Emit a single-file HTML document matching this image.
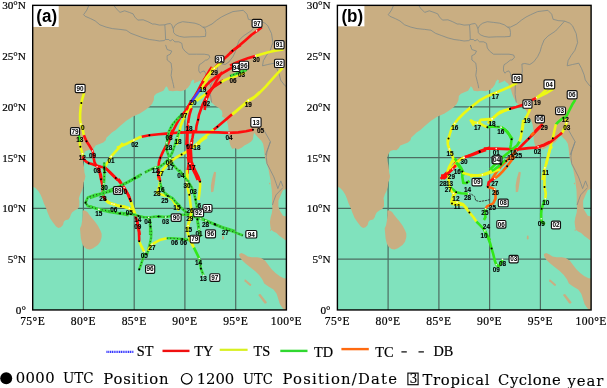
<!DOCTYPE html>
<html><head><meta charset="utf-8"><title>Tropical cyclone tracks</title>
<style>html,body{margin:0;padding:0;background:#fff;}body{width:607px;height:388px;overflow:hidden;}svg{display:block;}</style>
</head><body>
<svg width="607" height="388" viewBox="0 0 607 388">
<defs>
<clipPath id="ca"><rect x="32.7" y="5.35" width="253.7" height="304.6"/></clipPath>
<g id="map"><rect x="32.7" y="5.35" width="253.7" height="304.6" fill="#80e2bd"/>
<line x1="83.4" y1="5.35" x2="83.4" y2="310.0" class="g"/>
<line x1="134.2" y1="5.35" x2="134.2" y2="310.0" class="g"/>
<line x1="184.9" y1="5.35" x2="184.9" y2="310.0" class="g"/>
<line x1="235.7" y1="5.35" x2="235.7" y2="310.0" class="g"/>
<line x1="32.7" y1="259.2" x2="286.4" y2="259.2" class="g"/>
<line x1="32.7" y1="208.4" x2="286.4" y2="208.4" class="g"/>
<line x1="32.7" y1="157.7" x2="286.4" y2="157.7" class="g"/>
<line x1="32.7" y1="106.9" x2="286.4" y2="106.9" class="g"/>
<line x1="32.7" y1="56.1" x2="286.4" y2="56.1" class="g"/>
<polygon points="31.1,3.0 288.1,3.0 288.1,188.0 283.0,190.2 280.8,194.9 278.4,200.7 278.4,206.5 279.5,210.0 283.0,215.8 288.1,217.0 288.1,240.8 285.0,239.9 282.8,238.3 279.6,236.0 276.5,232.9 273.4,231.4 271.1,229.8 270.4,226.8 269.9,222.1 270.6,217.5 271.9,212.8 272.4,208.2 271.9,203.6 272.1,198.9 272.0,195.0 271.8,190.3 271.1,185.3 270.6,180.3 269.6,175.2 268.4,170.2 267.1,165.2 269.6,175.0 268.4,168.8 266.4,163.7 265.1,158.5 264.4,153.4 263.9,148.2 263.1,143.7 261.2,140.5 258.6,137.9 256.0,135.3 254.1,132.7 253.5,135.3 252.9,139.2 250.9,141.8 247.8,143.7 244.4,145.6 241.9,147.6 238.0,149.5 235.4,148.2 232.2,148.8 230.4,145.6 229.4,141.8 228.8,137.1 228.8,130.9 227.9,124.7 226.4,120.1 224.0,117.8 221.8,116.2 222.5,113.9 221.8,110.8 218.6,107.7 214.8,105.4 211.6,102.5 208.9,97.5 207.4,93.7 206.5,90.6 204.9,86.7 203.4,83.6 201.1,82.1 200.1,80.6 198.5,81.6 195.4,82.7 193.8,83.5 194.3,80.4 192.9,79.4 191.2,81.4 190.2,84.5 188.1,87.6 185.0,90.1 180.9,91.3 176.8,90.7 172.6,91.3 168.9,90.7 167.5,87.6 166.1,86.3 165.4,87.6 163.4,90.7 160.3,92.1 156.2,93.8 154.1,95.9 153.8,100.0 152.0,104.1 148.9,107.2 144.8,110.3 139.8,113.4 132.5,116.7 126.3,120.8 120.1,126.0 115.8,130.1 111.9,132.4 108.8,135.5 106.4,137.8 105.8,140.2 103.3,142.5 99.5,144.0 95.6,145.6 94.1,147.9 91.8,150.2 88.8,149.9 85.6,151.0 83.8,154.1 82.5,157.2 82.8,161.0 83.8,165.7 84.3,170.0 84.4,172.3 85.4,176.2 84.8,179.3 83.6,182.4 83.1,187.0 81.6,191.6 80.0,194.7 78.8,198.6 79.3,200.9 79.3,206.3 77.8,208.7 74.6,210.5 72.0,212.5 70.8,214.8 70.0,217.2 68.4,219.5 65.3,220.3 63.8,221.8 63.0,224.9 60.8,227.2 58.4,228.0 56.1,226.4 53.0,222.6 49.9,217.9 47.6,212.5 46.0,207.9 43.8,203.2 42.2,198.6 40.6,194.7 38.3,190.9 35.2,187.8 31.1,186.0" class="l"/>
<polygon points="83.1,210.2 85.4,210.8 87.4,212.1 89.3,214.7 91.9,217.9 94.5,221.1 97.8,225.6 100.3,230.2 101.6,233.4 101.6,237.3 100.3,241.8 97.8,245.0 93.2,248.2 89.9,249.5 86.8,248.9 84.1,246.9 82.2,243.7 80.9,238.5 80.3,232.1 80.0,228.2 81.3,225.6 82.2,220.5 82.8,215.3 82.6,211.5" class="l"/>
<polygon points="239.1,253.9 241.6,253.1 244.8,254.6 247.8,256.6 251.9,257.2 257.0,257.2 261.1,258.1 265.2,260.7 268.4,264.9 271.4,269.0 275.5,273.1 279.8,276.2 283.9,278.2 288.1,278.6 288.1,312.0 284.9,311.0 281.8,307.1 279.8,304.0 278.2,298.8 276.6,293.7 273.5,289.6 268.4,286.5 264.2,283.4 262.2,279.3 259.1,275.1 255.0,271.0 249.9,266.9 245.8,263.8 241.6,259.7 239.5,256.6" class="l"/>
<polygon points="244.4,279.8 245.6,279.6 251.4,284.6 250.8,286.0 249.6,285.8 244.6,281.3" class="l"/>
<polygon points="258.8,294.2 260.4,293.9 266.9,302.3 266.1,303.6 264.5,303.4 258.6,295.6" class="l"/>
<polygon points="214.1,171.8 216.1,172.2 215.4,178.5 214.4,185.5 213.4,191.8 211.1,192.3 210.9,185.5 212.1,178.5" class="l"/>
<polygon points="222.4,235.6 223.8,235.8 224.0,238.8 222.9,239.8 222.0,238.6" class="l"/>
<polygon points="269.5,182.6 270.4,183.2 270.0,184.4 269.0,184.0" class="l"/>
<polygon points="270.2,229.3 271.1,229.8 270.8,231.0 269.8,230.4" class="l"/>
<polyline points="89.8,3.0 86.8,10.1 83.6,14.7 85.2,16.3 90.6,18.6 95.2,20.9 99.9,24.8 106.1,27.1 112.3,28.6 120.0,29.4 126.2,30.2 130.8,33.3 137.0,35.6 143.2,37.9 149.4,39.5 154.8,40.2 159.4,41.0 164.0,40.6 165.6,39.5" class="b"/>
<polyline points="112.3,3.0 116.1,8.5 120.0,12.4 124.6,10.8 129.3,12.4 133.1,13.9 134.8,17.0 137.8,20.1 143.2,19.8 147.9,21.7 152.5,24.0 154.8,24.0 159.4,25.1 164.8,24.8 165.3,32.0 165.6,39.5" class="b"/>
<polyline points="164.8,24.8 167.1,24.0 170.2,23.5 171.8,24.8 173.0,28.6" class="b"/>
<polyline points="173.3,28.6 174.9,25.5 178.0,23.2 182.6,21.7 188.8,22.4 195.0,23.2 199.6,24.8 202.8,27.1 205.1,28.6 205.8,32.5 205.5,36.4 199.6,36.8 191.9,36.8 184.1,37.2 179.5,36.4 175.6,34.8 173.6,32.5 173.3,28.6" class="b"/>
<polyline points="202.8,27.1 205.8,27.1 212.0,24.0 216.8,20.1 221.4,17.0 226.0,14.7 232.9,11.6 243.2,10.3 247.0,14.2 248.4,19.3 253.5,20.6 259.9,21.1 265.1,23.2 267.8,25.8 271.5,33.5 272.9,42.6 270.2,50.3 266.4,55.5 263.4,60.6 262.5,65.8 267.8,64.5 274.1,63.2 276.8,68.4 279.4,74.8 280.6,80.0 284.4,85.1 288.1,88.0" class="b"/>
<polyline points="259.9,21.1 250.9,31.0 243.2,36.1 239.4,40.0 236.8,46.4 235.4,51.6 232.9,56.7 229.0,61.9 225.1,64.5 220.1,63.5 217.2,64.0 217.6,70.9 216.9,77.1 214.9,80.2 212.1,82.0 210.6,86.0 210.4,94.4 211.6,102.5" class="b"/>
<polyline points="165.6,39.5 168.8,39.5 170.2,41.0 172.5,39.5 174.9,41.8 178.8,41.8 181.8,43.3 182.6,48.0 184.9,51.1 188.8,54.2 196.5,54.2 204.3,54.2 208.9,55.0 209.8,57.3 207.4,60.0 205.6,60.1 201.8,63.2 199.4,64.7 198.8,67.1 198.8,70.9 200.2,73.2 201.8,71.7 204.1,70.9 205.6,73.2 206.4,77.1 208.8,82.0 210.6,86.0" class="b"/>
<polyline points="165.6,44.9 167.1,49.5 171.8,51.1 170.2,54.2 167.1,55.7 167.2,60.0 171.1,63.1 171.9,69.3 171.1,75.5 172.6,81.6 173.4,84.7 174.0,88.2" class="b"/>
<polyline points="265.4,155.0 270.4,141.7" class="b"/>
<polyline points="263.8,130.0 270.4,141.7 267.0,151.8 266.2,156.8 267.0,163.5 270.4,170.2 273.8,176.9 276.2,183.6 277.9,188.6 280.8,180.9 283.0,186.7" class="b"/>
<polyline points="283.0,187.5 276.0,194.9 273.8,200.7 272.4,205.0" class="b"/></g>
</defs>
<style>
.g{stroke:#4d6d62;stroke-width:1.2;}
.l{fill:#c9ae82;stroke:none;}
.b{fill:none;stroke:#7f8a8a;stroke-width:0.8;stroke-linejoin:round;}
.t{font-family:"Liberation Serif",serif;font-size:11.6px;letter-spacing:0.45px;fill:#000;stroke:#000;stroke-width:0.2px;}
.tn{font-size:11.2px;letter-spacing:0;}
.lg{font-family:"Liberation Serif",serif;font-size:14.3px;fill:#000;stroke:#000;stroke-width:0.2px;}
.bt{font-family:"DejaVu Serif",serif;font-size:14.8px;fill:#000;stroke:#000;stroke-width:0.1px;}
.pl{font-family:"Liberation Sans",sans-serif;font-weight:bold;font-size:17px;fill:#000;}
.bx{font-family:"Liberation Sans",sans-serif;font-weight:bold;font-size:6.4px;fill:#000;}
.dn{font-family:"Liberation Sans",sans-serif;font-weight:bold;font-size:6.4px;fill:#000;stroke:#000;stroke-width:0.12px;}
.tk{fill:none;stroke-width:2.6;stroke-linecap:butt;stroke-linejoin:round;}
</style>
<rect width="607" height="388" fill="#fff"/>
<g clip-path="url(#ca)">
<use href="#map"/>
<polyline points="84.0,93.1 82.4,98.6 81.3,102.9 80.6,107.8 80.1,114.0 80.1,120.2 80.9,124.1 82.4,127.9 83.2,131.0" class="tk" stroke="#ecf814"/>
<polyline points="82.5,127.4 82.9,130.0 83.5,133.9 83.9,135.2" class="tk" stroke="#ecf814"/>
<polyline points="83.9,135.2 85.5,139.0 86.5,141.3 89.3,145.5 91.6,149.3 92.6,151.0 93.5,154.5 93.8,158.4 94.5,162.2 95.8,164.8 97.1,166.7 99.6,171.2 100.9,175.1 101.6,180.0" class="tk" stroke="#ff0d0d"/>
<polyline points="79.0,135.2 79.3,137.7 79.7,141.6" class="tk" stroke="#33e81a"/>
<polyline points="79.7,141.6 80.3,146.8 81.6,150.6 82.5,153.8 82.9,156.4" class="tk" stroke="#ecf814"/>
<polyline points="82.9,156.4 83.5,159.0 86.1,161.6 88.7,163.2 91.9,164.1 95.8,165.4 100.9,166.7 104.1,167.4 107.4,169.9 111.2,173.8 115.1,177.7 117.7,180.0" class="tk" stroke="#ff0d0d"/>
<polyline points="122.8,142.9 120.0,146.8 115.7,151.3 111.2,156.4 108.7,160.9 106.1,164.8 104.1,167.4" class="tk" stroke="#ecf814"/>
<polyline points="99.0,167.6 99.7,172.7 101.0,179.2 102.2,184.3 102.9,188.2 102.9,192.7 103.5,196.6 105.5,199.8" class="tk" stroke="#ff0d0d"/>
<polyline points="105.5,199.8 108.0,202.4 111.9,203.7 117.1,205.2 120.9,206.2 124.8,206.9 128.7,208.2 131.2,210.1 133.8,212.7 135.1,215.0" class="tk" stroke="#ecf814"/>
<polyline points="104.2,166.9 109.3,171.4 112.6,174.7 115.8,177.9 119.0,181.1 121.6,184.3 124.1,187.6 126.1,190.8 128.0,194.6 129.9,199.1" class="tk" stroke="#ff0d0d"/>
<polyline points="129.9,199.1 131.2,203.0 132.5,207.5 133.8,211.4 135.1,215.0" class="tk" stroke="#ecf814"/>
<polyline points="104.2,162.4 104.2,167.6 104.4,172.7 104.2,179.2 103.9,183.7 103.5,190.8 102.9,195.9" class="tk" stroke="#3ade3a" stroke-width="1.25"/>
<polyline points="104.2,162.4 104.2,167.6 104.4,172.7 104.2,179.2 103.9,183.7 103.5,190.8 102.9,195.9" fill="none" stroke="#1d3d1d" stroke-width="1.05" stroke-dasharray="1,2.4"/>
<polyline points="90.0,197.9 97.7,195.3 105.5,192.1 113.2,188.8 120.9,185.6 128.7,181.8 134.5,178.5 140.0,176.0" class="tk" stroke="#3ade3a" stroke-width="1.25"/>
<polyline points="90.0,197.9 97.7,195.3 105.5,192.1 113.2,188.8 120.9,185.6 128.7,181.8 134.5,178.5 140.0,176.0" fill="none" stroke="#1d3d1d" stroke-width="1.05" stroke-dasharray="1,2.4"/>
<polyline points="90.0,206.2 99.0,209.5 109.3,212.0 122.2,214.0 128.7,215.3" class="tk" stroke="#3ade3a" stroke-width="1.25"/>
<polyline points="90.0,206.2 99.0,209.5 109.3,212.0 122.2,214.0 128.7,215.3" fill="none" stroke="#1d3d1d" stroke-width="1.05" stroke-dasharray="1,2.4"/>
<polyline points="259.9,91.9 255.0,96.5 248.3,100.4 239.8,108.1 232.1,114.3" class="tk" stroke="#ecf814"/>
<polyline points="232.1,114.3 227.5,118.2 222.1,122.8 217.4,126.7 213.6,129.8" class="tk" stroke="#ff0d0d"/>
<polyline points="213.6,129.8 210.5,132.1 205.8,136.0 201.2,139.8 196.5,144.2 193.5,146.8" class="tk" stroke="#ecf814"/>
<polyline points="253.0,129.8 246.0,131.3 238.3,132.4 229.0,132.9 218.2,132.4 207.4,132.1 195.0,132.1 179.5,132.6" class="tk" stroke="#ff0d0d"/>
<polyline points="207.4,95.0 202.7,104.3 198.9,115.1 198.1,119.7 196.5,125.9 195.8,132.1" class="tk" stroke="#ff0d0d"/>
<polyline points="190.9,102.7 185.8,110.5 180.6,116.9 176.8,123.4 172.9,131.1 170.3,137.5 167.7,145.0" class="tk" stroke="#ff0d0d"/>
<polyline points="181.9,114.3 176.8,119.5 172.9,124.0 170.3,128.5 168.4,133.7 167.1,138.8" class="tk" stroke="#3ade3a" stroke-width="1.25"/>
<polyline points="181.9,114.3 176.8,119.5 172.9,124.0 170.3,128.5 168.4,133.7 167.1,138.8" fill="none" stroke="#1d3d1d" stroke-width="1.05" stroke-dasharray="1,2.4"/>
<polyline points="190.9,106.6 187.1,111.8 183.2,119.5 180.6,125.9 179.3,132.4 178.0,137.5 176.8,145.0" class="tk" stroke="#ecf814"/>
<polyline points="191.6,107.9 189.6,114.3 188.4,120.8 187.7,127.2 187.1,133.7 186.4,145.0" class="tk" stroke="#ff0d0d"/>
<polyline points="186.2,110.0 190.3,103.0 194.4,96.8 198.0,90.6 200.6,85.5 203.7,80.3 206.8,75.2 209.9,70.0 212.0,66.9" class="tk" stroke="#ff0d0d"/>
<polyline points="189.8,108.1 193.4,100.9 197.5,94.7 201.6,88.6 205.8,81.3 208.9,76.2 210.9,72.1 213.0,67.9" class="tk" stroke="#ecf814"/>
<polyline points="191.3,102.0 200.6,89.1" class="tk" stroke="#4040ff"/>
<polyline points="196.5,100.9 206.3,93.5" class="tk" stroke="#ecf814"/>
<polyline points="206.3,93.5 209.9,90.6 214.0,86.5 220.0,82.4 223.3,80.3" class="tk" stroke="#ff0d0d"/>
<polyline points="204.7,110.0 205.8,100.9 208.9,93.7 212.0,88.6 215.1,83.4 218.1,78.2 220.0,75.2 222.3,72.1" class="tk" stroke="#ff0d0d"/>
<polyline points="240.7,45.0 232.4,50.8 227.2,56.0 222.1,60.5 216.9,65.6 211.8,70.8 207.9,75.3 204.7,79.1 202.1,83.0" class="tk" stroke="#ff0d0d"/>
<polyline points="221.4,62.4 218.2,65.0 214.3,68.2 211.8,70.8 209.2,74.0 206.6,77.2 204.0,81.1" class="tk" stroke="#ecf814"/>
<polyline points="245.0,61.8 237.5,65.0 229.8,68.8 222.1,73.4 215.6,77.2 210.5,81.1 206.6,84.9 204.0,88.8" class="tk" stroke="#ff0d0d"/>
<polyline points="231.1,77.2 237.5,73.4 245.0,70.1" class="tk" stroke="#3ade3a" stroke-width="1.25"/>
<polyline points="231.1,77.2 237.5,73.4 245.0,70.1" fill="none" stroke="#1d3d1d" stroke-width="1.05" stroke-dasharray="1,2.4"/>
<polyline points="245.0,72.3 236.2,75.9 229.8,77.9 224.6,80.1 220.8,82.4" class="tk" stroke="#ecf814"/>
<polyline points="220.8,82.4 216.9,84.9 213.0,87.5 209.2,91.4 206.6,95.0" class="tk" stroke="#ff0d0d"/>
<polyline points="261.7,27.3 257.1,30.9 251.6,34.7 245.5,40.2 239.3,45.6 233.1,50.5 230.0,53.3" class="tk" stroke="#ff0d0d"/>
<polyline points="283.3,49.4 276.4,50.5 270.2,51.8 264.0,53.6 257.8,55.3 255.5,55.9" class="tk" stroke="#ecf814"/>
<polyline points="255.5,55.9 248.6,57.9 242.4,60.3 236.2,62.6 230.0,65.7" class="tk" stroke="#ff0d0d"/>
<polyline points="282.6,68.1 277.9,72.8 271.8,79.7 265.6,86.7 259.4,92.9 253.2,98.3 248.6,100.6 243.9,104.5 237.7,109.9 232.3,114.5" class="tk" stroke="#ecf814"/>
<polyline points="230.0,75.9 237.7,73.2 247.0,69.7" class="tk" stroke="#3ade3a" stroke-width="1.25"/>
<polyline points="230.0,75.9 237.7,73.2 247.0,69.7" fill="none" stroke="#1d3d1d" stroke-width="1.05" stroke-dasharray="1,2.4"/>
<polyline points="181.9,132.2 166.4,133.6 158.7,134.2 149.4,135.2 141.6,136.7" class="tk" stroke="#ff0d0d"/>
<polyline points="141.6,136.7 138.6,137.8 133.9,140.1 127.7,143.2 120.0,146.6 116.9,147.8" class="tk" stroke="#ecf814"/>
<polyline points="172.6,130.0 170.6,136.4 166.8,144.2 162.9,151.9 160.3,157.7 159.0,162.2 158.4,168.7 158.4,180.0" class="tk" stroke="#ff0d0d"/>
<polyline points="169.3,130.0 168.0,136.4 166.8,142.9 166.8,150.6 168.7,155.8 170.0,158.4 173.2,164.8 177.7,169.9 182.2,173.8 186.1,177.7 188.7,181.5" class="tk" stroke="#3ade3a" stroke-width="1.25"/>
<polyline points="169.3,130.0 168.0,136.4 166.8,142.9 166.8,150.6 168.7,155.8 170.0,158.4 173.2,164.8 177.7,169.9 182.2,173.8 186.1,177.7 188.7,181.5" fill="none" stroke="#1d3d1d" stroke-width="1.05" stroke-dasharray="1,2.4"/>
<polyline points="179.6,130.0 177.1,137.7 175.1,144.2 172.6,151.9 169.3,158.4 164.2,163.5 159.0,167.4 155.2,167.4 150.0,169.9 144.8,172.5" class="tk" stroke="#3ade3a" stroke-width="1.25"/>
<polyline points="179.6,130.0 177.1,137.7 175.1,144.2 172.6,151.9 169.3,158.4 164.2,163.5 159.0,167.4 155.2,167.4 150.0,169.9 144.8,172.5" fill="none" stroke="#1d3d1d" stroke-width="1.05" stroke-dasharray="1,2.4"/>
<polyline points="200.0,142.9 193.8,146.8 187.4,151.3 181.6,154.5 175.8,157.7 170.6,161.6 166.8,165.4 162.9,169.9 160.3,173.8 159.0,177.7 158.4,180.0" class="tk" stroke="#ecf814"/>
<polyline points="187.4,130.0 187.4,137.7 187.4,145.5 188.0,153.2 188.7,158.4 188.7,163.5 188.0,168.7 187.4,173.8" class="tk" stroke="#ff0d0d"/>
<polyline points="187.4,173.8 187.4,180.0" class="tk" stroke="#ecf814"/>
<polyline points="193.8,130.0 192.5,137.7 191.2,142.9 189.3,150.6 188.0,158.4 189.9,163.5 192.5,168.7 195.1,173.8 197.7,180.0" class="tk" stroke="#ff0d0d"/>
<polyline points="187.0,170.0 187.0,176.2 187.0,182.4 187.8,188.6 189.3,194.7 190.1,200.9 190.9,207.1 191.6,211.0 190.1,219.5 188.6,224.1 187.0,230.0" class="tk" stroke="#ecf814"/>
<polyline points="179.3,170.0 183.9,176.2 188.6,182.4 191.6,187.0 194.0,193.2 195.5,199.4 196.3,204.0 197.1,207.9" class="tk" stroke="#3ade3a" stroke-width="1.25"/>
<polyline points="179.3,170.0 183.9,176.2 188.6,182.4 191.6,187.0 194.0,193.2 195.5,199.4 196.3,204.0 197.1,207.9" fill="none" stroke="#1d3d1d" stroke-width="1.05" stroke-dasharray="1,2.4"/>
<polyline points="165.4,193.2 170.0,197.1 174.6,201.7 179.3,206.3 183.9,210.2 188.6,214.1 193.2,216.4 200.9,218.7 207.1,221.0 214.8,224.1 222.6,227.2 230.0,229.5 234.9,231.1" class="tk" stroke="#3ade3a" stroke-width="1.25"/>
<polyline points="165.4,193.2 170.0,197.1 174.6,201.7 179.3,206.3 183.9,210.2 188.6,214.1 193.2,216.4 200.9,218.7 207.1,221.0 214.8,224.1 222.6,227.2 230.0,229.5 234.9,231.1" fill="none" stroke="#1d3d1d" stroke-width="1.05" stroke-dasharray="1,2.4"/>
<polyline points="180.8,214.8 194.7,214.8" class="tk" stroke="#3ade3a" stroke-width="1.25"/>
<polyline points="180.8,214.8 194.7,214.8" fill="none" stroke="#1d3d1d" stroke-width="1.05" stroke-dasharray="1,2.4"/>
<polyline points="197.1,216.4 197.8,222.6 198.6,230.0" class="tk" stroke="#3ade3a" stroke-width="1.25"/>
<polyline points="197.1,216.4 197.8,222.6 198.6,230.0" fill="none" stroke="#1d3d1d" stroke-width="1.05" stroke-dasharray="1,2.4"/>
<polyline points="192.3,140.0 190.8,149.3 191.5,161.6 194.6,169.4 198.5,177.1 200.1,181.8" class="tk" stroke="#ff0d0d"/>
<polyline points="200.1,181.8 200.1,186.4 199.3,194.1 198.5,200.0" class="tk" stroke="#ecf814"/>
<polyline points="194.6,146.2 202.4,140.0 207.0,136.9" class="tk" stroke="#ecf814"/>
<polyline points="118.5,178.9 120.0,181.2 124.6,188.9 128.5,195.1 130.8,201.3" class="tk" stroke="#ff0d0d"/>
<polyline points="130.8,201.3 132.4,205.9 133.9,210.6 135.5,215.2" class="tk" stroke="#ecf814"/>
<polyline points="135.5,215.2 137.0,221.4 138.6,227.6 139.8,235.0" class="tk" stroke="#ff0d0d"/>
<polyline points="120.0,205.9 124.6,206.7 129.3,208.2 132.4,210.6 134.7,213.7 135.5,215.2" class="tk" stroke="#ecf814"/>
<polyline points="120.0,212.9 129.3,213.7 135.5,214.9 138.6,216.0 143.2,217.1 148.6,217.5 154.0,216.8 158.7,216.4 165.6,217.1 171.0,216.0" class="tk" stroke="#3ade3a" stroke-width="1.25"/>
<polyline points="120.0,212.9 129.3,213.7 135.5,214.9 138.6,216.0 143.2,217.1 148.6,217.5 154.0,216.8 158.7,216.4 165.6,217.1 171.0,216.0" fill="none" stroke="#1d3d1d" stroke-width="1.05" stroke-dasharray="1,2.4"/>
<polyline points="148.6,217.5 150.2,221.4 150.2,235.0" class="tk" stroke="#3ade3a" stroke-width="1.25"/>
<polyline points="148.6,217.5 150.2,221.4 150.2,235.0" fill="none" stroke="#1d3d1d" stroke-width="1.05" stroke-dasharray="1,2.4"/>
<polyline points="141.6,174.2 140.1,175.0 134.7,178.1 127.7,182.0 120.0,185.8" class="tk" stroke="#3ade3a" stroke-width="1.25"/>
<polyline points="141.6,174.2 140.1,175.0 134.7,178.1 127.7,182.0 120.0,185.8" fill="none" stroke="#1d3d1d" stroke-width="1.05" stroke-dasharray="1,2.4"/>
<polyline points="158.7,175.0 160.2,181.2" class="tk" stroke="#ff0d0d"/>
<polyline points="160.2,181.2 159.4,185.8 157.9,190.5 157.1,192.8 163.3,195.1 167.9,195.9 172.6,199.7 174.9,203.6 177.2,207.5 178.8,210.6" class="tk" stroke="#ecf814"/>
<polyline points="160.2,182.7 161.8,188.9 166.4,195.1 172.6,198.2 176.4,202.8 180.0,205.9" class="tk" stroke="#3ade3a" stroke-width="1.25"/>
<polyline points="160.2,182.7 161.8,188.9 166.4,195.1 172.6,198.2 176.4,202.8 180.0,205.9" fill="none" stroke="#1d3d1d" stroke-width="1.05" stroke-dasharray="1,2.4"/>
<polyline points="120.0,188.1 111.0,191.2 101.8,193.5 94.0,195.1 87.8,197.4 85.5,202.8 87.8,205.9 95.6,208.2 98.7,209.4 106.4,210.5 114.1,212.1 120.0,213.6" class="tk" stroke="#3ade3a" stroke-width="1.25"/>
<polyline points="120.0,188.1 111.0,191.2 101.8,193.5 94.0,195.1 87.8,197.4 85.5,202.8 87.8,205.9 95.6,208.2 98.7,209.4 106.4,210.5 114.1,212.1 120.0,213.6" fill="none" stroke="#1d3d1d" stroke-width="1.05" stroke-dasharray="1,2.4"/>
<polyline points="106.4,200.5 111.0,203.6 114.1,204.3 120.0,206.6" class="tk" stroke="#ecf814"/>
<polyline points="137.4,221.2 138.1,227.4 138.9,232.0 139.2,238.2 139.2,241.3" class="tk" stroke="#ff0d0d"/>
<polyline points="139.2,241.3 141.2,245.9 142.8,249.0 144.3,252.1" class="tk" stroke="#ecf814"/>
<polyline points="144.3,252.1 143.6,256.8 142.0,261.4 140.5,266.0 139.2,269.4" class="tk" stroke="#3ade3a" stroke-width="1.25"/>
<polyline points="144.3,252.1 143.6,256.8 142.0,261.4 140.5,266.0 139.2,269.4" fill="none" stroke="#1d3d1d" stroke-width="1.05" stroke-dasharray="1,2.4"/>
<polyline points="149.7,224.3 150.5,226.6 151.3,232.0 151.0,238.2 149.7,244.4 148.2,250.6 146.6,255.2" class="tk" stroke="#3ade3a" stroke-width="1.25"/>
<polyline points="149.7,224.3 150.5,226.6 151.3,232.0 151.0,238.2 149.7,244.4 148.2,250.6 146.6,255.2" fill="none" stroke="#1d3d1d" stroke-width="1.05" stroke-dasharray="1,2.4"/>
<polyline points="166.8,238.2 160.6,239.7 155.9,242.1 152.1,244.4 150.5,245.9 148.2,250.6" class="tk" stroke="#ecf814"/>
<polyline points="166.8,238.2 171.4,238.2 176.0,238.5 182.2,239.0 185.0,239.4 189.9,240.1" class="tk" stroke="#3ade3a" stroke-width="1.25"/>
<polyline points="166.8,238.2 171.4,238.2 176.0,238.5 182.2,239.0 185.0,239.4 189.9,240.1" fill="none" stroke="#1d3d1d" stroke-width="1.05" stroke-dasharray="1,2.4"/>
<polyline points="191.2,213.1 189.7,219.3 188.1,225.5 187.4,231.6 188.9,236.3 190.5,240.2 192.8,245.6" class="tk" stroke="#ecf814"/>
<polyline points="196.6,216.2 197.4,219.3 198.2,223.9 199.0,229.3 199.7,233.2 200.5,237.1" class="tk" stroke="#3ade3a" stroke-width="1.25"/>
<polyline points="196.6,216.2 197.4,219.3 198.2,223.9 199.0,229.3 199.7,233.2 200.5,237.1" fill="none" stroke="#1d3d1d" stroke-width="1.05" stroke-dasharray="1,2.4"/>
<polyline points="198.2,216.2 205.9,220.8 215.2,224.7 224.5,228.6 235.0,232.4 243.0,235.5" class="tk" stroke="#3ade3a" stroke-width="1.25"/>
<polyline points="198.2,216.2 205.9,220.8 215.2,224.7 224.5,228.6 235.0,232.4 243.0,235.5" fill="none" stroke="#1d3d1d" stroke-width="1.05" stroke-dasharray="1,2.4"/>
<polyline points="189.3,239.2 191.6,243.1 193.9,247.7" class="tk" stroke="#ecf814"/>
<polyline points="193.9,247.7 197.0,253.9 199.3,258.6" class="tk" stroke="#33e81a"/>
<polyline points="199.3,258.6 200.1,263.2 200.9,268.6 202.4,272.5 203.5,275.3" class="tk" stroke="#3ade3a" stroke-width="1.25"/>
<polyline points="199.3,258.6 200.1,263.2 200.9,268.6 202.4,272.5 203.5,275.3" fill="none" stroke="#1d3d1d" stroke-width="1.05" stroke-dasharray="1,2.4"/>
<circle cx="81.3" cy="102.9" r="1.0" fill="#000"/>
<circle cx="80.9" cy="124.1" r="0.8" fill="#fff6f0"/>
<circle cx="86.5" cy="141.3" r="1.0" fill="#000"/>
<circle cx="92.6" cy="151.0" r="0.8" fill="#fff6f0"/>
<circle cx="97.1" cy="166.7" r="0.8" fill="#fff6f0"/>
<circle cx="80.3" cy="146.8" r="1.0" fill="#000"/>
<circle cx="82.5" cy="153.8" r="0.8" fill="#fff6f0"/>
<circle cx="88.7" cy="163.2" r="1.0" fill="#000"/>
<circle cx="104.1" cy="167.4" r="1.0" fill="#000"/>
<circle cx="111.2" cy="156.4" r="0.8" fill="#fff6f0"/>
<circle cx="101.0" cy="179.2" r="1.0" fill="#000"/>
<circle cx="105.5" cy="199.8" r="1.0" fill="#000"/>
<circle cx="111.9" cy="203.7" r="0.8" fill="#fff6f0"/>
<circle cx="120.9" cy="206.2" r="1.0" fill="#000"/>
<circle cx="115.8" cy="177.9" r="1.0" fill="#000"/>
<circle cx="124.1" cy="187.6" r="0.8" fill="#fff6f0"/>
<circle cx="129.9" cy="199.1" r="1.0" fill="#000"/>
<circle cx="103.9" cy="183.7" r="0.8" fill="#fff6f0"/>
<circle cx="134.5" cy="178.5" r="1.0" fill="#000"/>
<circle cx="99.0" cy="209.5" r="0.8" fill="#fff6f0"/>
<circle cx="248.3" cy="100.4" r="0.8" fill="#fff6f0"/>
<circle cx="217.4" cy="126.7" r="1.0" fill="#000"/>
<circle cx="196.5" cy="144.2" r="0.8" fill="#fff6f0"/>
<circle cx="253.0" cy="129.8" r="1.0" fill="#000"/>
<circle cx="229.0" cy="132.9" r="0.8" fill="#fff6f0"/>
<circle cx="198.1" cy="119.7" r="1.0" fill="#000"/>
<circle cx="189.0" cy="124.0" r="0.8" fill="#fff6f0"/>
<circle cx="206.3" cy="93.5" r="1.0" fill="#000"/>
<circle cx="206.6" cy="99.1" r="0.8" fill="#fff6f0"/>
<circle cx="232.4" cy="50.8" r="1.0" fill="#000"/>
<circle cx="214.3" cy="68.2" r="0.8" fill="#fff6f0"/>
<circle cx="220.8" cy="82.4" r="1.0" fill="#000"/>
<circle cx="256.6" cy="30.9" r="0.8" fill="#fff6f0"/>
<circle cx="255.5" cy="55.9" r="0.8" fill="#fff6f0"/>
<circle cx="248.6" cy="100.6" r="0.8" fill="#fff6f0"/>
<circle cx="149.4" cy="135.2" r="1.0" fill="#000"/>
<circle cx="133.9" cy="140.1" r="0.8" fill="#fff6f0"/>
<circle cx="160.3" cy="157.7" r="1.0" fill="#000"/>
<circle cx="166.8" cy="142.9" r="0.8" fill="#fff6f0"/>
<circle cx="170.0" cy="158.4" r="0.8" fill="#fff6f0"/>
<circle cx="177.1" cy="137.7" r="0.8" fill="#fff6f0"/>
<circle cx="155.2" cy="167.4" r="0.8" fill="#fff6f0"/>
<circle cx="181.6" cy="154.5" r="1.0" fill="#000"/>
<circle cx="187.4" cy="145.5" r="1.0" fill="#000"/>
<circle cx="188.7" cy="163.5" r="1.0" fill="#000"/>
<circle cx="191.2" cy="142.9" r="0.8" fill="#fff6f0"/>
<circle cx="189.9" cy="163.5" r="0.8" fill="#fff6f0"/>
<circle cx="187.0" cy="182.4" r="0.8" fill="#fff6f0"/>
<circle cx="189.3" cy="194.7" r="1.0" fill="#000"/>
<circle cx="195.5" cy="199.4" r="1.0" fill="#000"/>
<circle cx="200.9" cy="218.7" r="0.8" fill="#fff6f0"/>
<circle cx="214.8" cy="224.1" r="1.0" fill="#000"/>
<circle cx="200.1" cy="181.8" r="1.0" fill="#000"/>
<circle cx="130.8" cy="201.3" r="1.0" fill="#000"/>
<circle cx="129.3" cy="208.2" r="0.8" fill="#fff6f0"/>
<circle cx="138.6" cy="216.0" r="1.0" fill="#000"/>
<circle cx="148.6" cy="217.5" r="0.8" fill="#fff6f0"/>
<circle cx="158.7" cy="216.4" r="1.0" fill="#000"/>
<circle cx="165.6" cy="217.1" r="0.8" fill="#fff6f0"/>
<circle cx="134.7" cy="178.1" r="1.0" fill="#000"/>
<circle cx="160.2" cy="181.2" r="1.0" fill="#000"/>
<circle cx="167.9" cy="195.9" r="1.0" fill="#000"/>
<circle cx="85.5" cy="202.8" r="1.0" fill="#000"/>
<circle cx="98.7" cy="209.4" r="0.8" fill="#fff6f0"/>
<circle cx="120.0" cy="213.6" r="1.0" fill="#000"/>
<circle cx="114.1" cy="204.3" r="0.8" fill="#fff6f0"/>
<circle cx="139.2" cy="241.3" r="1.0" fill="#000"/>
<circle cx="144.3" cy="252.1" r="0.8" fill="#fff6f0"/>
<circle cx="139.2" cy="269.4" r="1.0" fill="#000"/>
<circle cx="150.5" cy="226.6" r="1.0" fill="#000"/>
<circle cx="152.1" cy="244.4" r="0.8" fill="#fff6f0"/>
<circle cx="182.2" cy="239.0" r="1.0" fill="#000"/>
<circle cx="188.1" cy="225.5" r="0.8" fill="#fff6f0"/>
<circle cx="188.9" cy="236.3" r="1.0" fill="#000"/>
<circle cx="197.4" cy="219.3" r="1.0" fill="#000"/>
<circle cx="199.0" cy="229.3" r="0.8" fill="#fff6f0"/>
<circle cx="205.9" cy="220.8" r="0.8" fill="#fff6f0"/>
<circle cx="215.2" cy="224.7" r="1.0" fill="#000"/>
<circle cx="199.3" cy="258.6" r="0.8" fill="#fff6f0"/>
<circle cx="200.9" cy="268.6" r="1.0" fill="#000"/>
<circle cx="203.5" cy="275.3" r="0.8" fill="#fff6f0"/>
<text x="92.6" y="157.9" class="dn" text-anchor="middle">09</text>
<text x="82.2" y="159.8" class="dn" text-anchor="middle">12</text>
<text x="79.7" y="141.8" class="dn" text-anchor="middle">13</text>
<text x="111.0" y="163.0" class="dn" text-anchor="middle">01</text>
<text x="97.1" y="173.3" class="dn" text-anchor="middle">08</text>
<text x="104.5" y="173.3" class="dn" text-anchor="middle">1</text>
<text x="104.2" y="189.7" class="dn" text-anchor="middle">30</text>
<text x="102.9" y="200.6" class="dn" text-anchor="middle">28</text>
<text x="113.8" y="211.6" class="dn" text-anchor="middle">06</text>
<text x="125.4" y="193.5" class="dn" text-anchor="middle">0</text>
<text x="229.0" y="139.6" class="dn" text-anchor="middle">04</text>
<text x="248.3" y="107.2" class="dn" text-anchor="middle">19</text>
<text x="206.6" y="106.4" class="dn" text-anchor="middle">02</text>
<text x="196.9" y="150.4" class="dn" text-anchor="middle">18</text>
<text x="189.0" y="130.9" class="dn" text-anchor="middle">18</text>
<text x="183.8" y="118.4" class="dn" text-anchor="middle">07</text>
<text x="169.0" y="140.3" class="dn" text-anchor="middle">08</text>
<text x="178.0" y="143.5" class="dn" text-anchor="middle">18</text>
<text x="202.7" y="91.7" class="dn" text-anchor="middle">19</text>
<text x="192.9" y="105.1" class="dn" text-anchor="middle">20</text>
<text x="214.3" y="74.8" class="dn" text-anchor="middle">29</text>
<text x="256.3" y="62.4" class="dn" text-anchor="middle">30</text>
<text x="241.6" y="77.2" class="dn" text-anchor="middle">03</text>
<text x="233.1" y="82.6" class="dn" text-anchor="middle">06</text>
<text x="260.5" y="132.8" class="dn" text-anchor="middle">05</text>
<text x="134.7" y="146.8" class="dn" text-anchor="middle">02</text>
<text x="168.7" y="150.1" class="dn" text-anchor="middle">28</text>
<text x="169.3" y="165.0" class="dn" text-anchor="middle">06</text>
<text x="170.6" y="170.1" class="dn" text-anchor="middle">17</text>
<text x="155.2" y="173.3" class="dn" text-anchor="middle">12</text>
<text x="160.3" y="175.9" class="dn" text-anchor="middle">27</text>
<text x="180.9" y="177.8" class="dn" text-anchor="middle">04</text>
<text x="189.9" y="148.9" class="dn" text-anchor="middle">01</text>
<text x="191.9" y="170.1" class="dn" text-anchor="middle">17</text>
<text x="187.0" y="188.3" class="dn" text-anchor="middle">30</text>
<text x="193.2" y="193.7" class="dn" text-anchor="middle">03</text>
<text x="190.1" y="213.1" class="dn" text-anchor="middle">26</text>
<text x="205.6" y="227.0" class="dn" text-anchor="middle">28</text>
<text x="199.4" y="208.4" class="dn" text-anchor="middle">6</text>
<text x="129.3" y="215.0" class="dn" text-anchor="middle">05</text>
<text x="137.8" y="221.9" class="dn" text-anchor="middle">14</text>
<text x="137.8" y="228.9" class="dn" text-anchor="middle">09</text>
<text x="147.8" y="223.5" class="dn" text-anchor="middle">04</text>
<text x="165.6" y="223.5" class="dn" text-anchor="middle">03</text>
<text x="161.0" y="191.8" class="dn" text-anchor="middle">16</text>
<text x="157.1" y="195.7" class="dn" text-anchor="middle">28</text>
<text x="164.8" y="202.6" class="dn" text-anchor="middle">25</text>
<text x="176.9" y="209.6" class="dn" text-anchor="middle">15</text>
<text x="98.7" y="215.7" class="dn" text-anchor="middle">15</text>
<text x="174.5" y="244.9" class="dn" text-anchor="middle">06</text>
<text x="152.1" y="250.3" class="dn" text-anchor="middle">27</text>
<text x="144.3" y="258.1" class="dn" text-anchor="middle">05</text>
<text x="189.7" y="220.6" class="dn" text-anchor="middle">29</text>
<text x="188.6" y="232.2" class="dn" text-anchor="middle">15</text>
<text x="199.0" y="236.1" class="dn" text-anchor="middle">01</text>
<text x="183.5" y="245.3" class="dn" text-anchor="middle">06</text>
<text x="225.3" y="235.3" class="dn" text-anchor="middle">27</text>
<text x="198.6" y="265.0" class="dn" text-anchor="middle">14</text>
<text x="203.2" y="281.1" class="dn" text-anchor="middle">13</text>
<text x="82.9" y="130.4" class="dn" text-anchor="middle">0</text>
<rect x="113.5" y="186.6" width="9.0" height="7.7" rx="1.3" fill="#fff" stroke="#111" stroke-width="1.15"/><text x="118.0" y="192.8" class="bx" text-anchor="middle">89</text>
<rect x="215.3" y="55.7" width="8.6" height="7.0" rx="1.3" fill="#fff" stroke="#111" stroke-width="1.15"/><text x="219.6" y="61.5" class="bx" text-anchor="middle">91</text>
<rect x="252.1" y="19.3" width="9.9" height="8.0" rx="1.3" fill="#fff" stroke="#111" stroke-width="1.15"/><text x="257.1" y="25.6" class="bx" text-anchor="middle">97</text>
<rect x="274.5" y="40.6" width="9.6" height="8.3" rx="1.3" fill="#fff" stroke="#111" stroke-width="1.15"/><text x="279.3" y="47.1" class="bx" text-anchor="middle">91</text>
<rect x="274.5" y="59.2" width="9.6" height="8.3" rx="1.3" fill="#fff" stroke="#111" stroke-width="1.15"/><text x="279.3" y="65.6" class="bx" text-anchor="middle">92</text>
<rect x="232.5" y="63.2" width="7.4" height="8.3" rx="1.3" fill="#fff" stroke="#111" stroke-width="1.15"/><text x="236.2" y="69.7" class="bx" text-anchor="middle">94</text>
<rect x="239.3" y="61.2" width="9.3" height="8.0" rx="1.3" fill="#fff" stroke="#111" stroke-width="1.15"/><text x="243.9" y="67.5" class="bx" text-anchor="middle">96</text>
<rect x="250.8" y="117.5" width="10.3" height="9.6" rx="1.3" fill="#fff" stroke="#111" stroke-width="1.15"/><text x="256.0" y="124.6" class="bx" text-anchor="middle">13</text>
<rect x="202.9" y="204.5" width="9.1" height="7.6" rx="1.3" fill="#fff" stroke="#111" stroke-width="1.15"/><text x="207.5" y="210.6" class="bx" text-anchor="middle">91</text>
<rect x="193.7" y="209.1" width="9.9" height="7.6" rx="1.3" fill="#fff" stroke="#111" stroke-width="1.15"/><text x="198.6" y="215.2" class="bx" text-anchor="middle">92</text>
<rect x="171.2" y="213.8" width="9.9" height="7.6" rx="1.3" fill="#fff" stroke="#111" stroke-width="1.15"/><text x="176.2" y="219.8" class="bx" text-anchor="middle">90</text>
<rect x="145.6" y="265.0" width="9.1" height="8.3" rx="1.3" fill="#fff" stroke="#111" stroke-width="1.15"/><text x="150.1" y="271.4" class="bx" text-anchor="middle">96</text>
<rect x="205.6" y="229.8" width="9.9" height="8.0" rx="1.3" fill="#fff" stroke="#111" stroke-width="1.15"/><text x="210.6" y="236.1" class="bx" text-anchor="middle">96</text>
<rect x="190.2" y="235.2" width="9.1" height="7.6" rx="1.3" fill="#fff" stroke="#111" stroke-width="1.15"/><text x="194.7" y="241.3" class="bx" text-anchor="middle">79</text>
<rect x="209.9" y="273.7" width="9.9" height="7.6" rx="1.3" fill="#fff" stroke="#111" stroke-width="1.15"/><text x="214.8" y="279.8" class="bx" text-anchor="middle">97</text>
<rect x="245.8" y="230.5" width="11.0" height="7.5" rx="1.3" fill="#fff" stroke="#111" stroke-width="1.15"/><text x="251.3" y="236.6" class="bx" text-anchor="middle">94</text>
<rect x="75.2" y="84.3" width="9.9" height="8.3" rx="1.3" fill="#fff" stroke="#111" stroke-width="1.15"/><text x="80.1" y="90.8" class="bx" text-anchor="middle">90</text>
<rect x="70.5" y="127.6" width="9.1" height="7.6" rx="1.3" fill="#fff" stroke="#111" stroke-width="1.15"/><text x="75.1" y="133.7" class="bx" text-anchor="middle">79</text>
</g>
<g transform="translate(304.7,0)"><g clip-path="url(#ca)">
<use href="#map"/>
<polyline points="212.4,83.0 206.1,86.2 198.8,89.5 191.6,92.5 182.6,96.2 174.5,100.7 166.4,107.0 159.2,113.3 153.7,118.7 150.1,123.2 146.5,129.5 143.8,138.5 143.3,142.2" class="tk" stroke="#ecf814"/>
<polyline points="218.5,104.8 211.6,107.1 205.4,108.7" class="tk" stroke="#ff0d0d"/>
<polyline points="205.4,108.7 199.2,111.0 193.0,114.1 187.6,118.7 185.3,121.0 183.0,123.3" class="tk" stroke="#ecf814"/>
<polyline points="227.1,100.2 231.7,97.8" class="tk" stroke="#ff0d0d"/>
<polyline points="231.7,97.8 236.3,94.7 241.0,90.1 245.3,86.2" class="tk" stroke="#ecf814"/>
<polyline points="225.5,108.7 224.0,112.5 222.4,115.6 220.1,119.5 218.5,124.1 217.8,130.0" class="tk" stroke="#ecf814"/>
<polyline points="248.9,88.6 242.7,92.5 236.5,95.6 231.8,97.9" class="tk" stroke="#ecf814"/>
<polyline points="270.5,99.9 267.4,104.8 264.3,111.0 261.2,117.2" class="tk" stroke="#33e81a"/>
<polyline points="261.2,118.1 258.9,117.4 253.5,122.0 251.2,124.3" class="tk" stroke="#33e81a"/>
<polyline points="251.2,124.3 249.6,131.3 248.1,138.2 246.5,143.7 245.0,149.8 243.4,156.0 241.9,162.2 241.1,165.0" class="tk" stroke="#ecf814"/>
<polyline points="261.2,118.9 262.0,122.8 259.7,128.2 257.4,132.8" class="tk" stroke="#ecf814"/>
<polyline points="257.4,132.8 254.3,135.2 250.4,138.2 245.8,142.1 239.6,145.2 233.4,146.8 230.3,148.3" class="tk" stroke="#ff0d0d"/>
<polyline points="238.0,124.3 233.4,128.2 230.3,131.3" class="tk" stroke="#ff0d0d"/>
<polyline points="179.1,148.6 185.3,148.6 191.5,148.6 205.4,149.1 213.1,149.4 224.0,148.1 232.5,147.5 239.4,144.7 245.3,141.6" class="tk" stroke="#ff0d0d"/>
<polyline points="237.9,124.6 231.7,130.8 227.1,135.5 224.0,138.6 219.3,143.2 214.7,147.8 211.6,150.9" class="tk" stroke="#ff0d0d"/>
<polyline points="229.4,132.4 226.3,135.5" class="tk" stroke="#ff6a10"/>
<polyline points="211.6,150.9 205.4,157.1 200.8,161.8 196.1,166.4 191.5,172.6 188.4,177.2 186.8,180.0" class="tk" stroke="#ff6a10"/>
<polyline points="218.5,120.0 217.8,126.2 217.0,131.6 216.2,137.0 214.7,141.6" class="tk" stroke="#ecf814"/>
<polyline points="214.7,141.6 212.4,145.5 208.5,148.6 203.9,152.5 199.2,156.3 193.0,161.8 188.4,166.4 185.3,169.5" class="tk" stroke="#33e81a"/>
<polyline points="185.3,126.2 191.5,127.0 196.1,127.0 200.8,130.1 204.6,134.7 206.9,139.3 206.2,144.7 205.4,148.6" class="tk" stroke="#33e81a"/>
<polyline points="247.2,146.3 245.3,149.4 243.3,157.1 241.7,163.3 240.2,167.9 238.6,174.1 237.9,180.0" class="tk" stroke="#ecf814"/>
<polyline points="143.1,138.2 143.1,144.4 144.6,149.0 146.9,153.7 148.5,158.3 150.0,162.9 151.6,167.6" class="tk" stroke="#ecf814"/>
<polyline points="185.3,147.5 174.8,151.3 167.1,154.4 159.3,157.5 154.7,159.8 150.8,162.9 148.5,166.0 145.4,170.7 140.8,175.0" class="tk" stroke="#ff0d0d"/>
<polyline points="150.0,158.3 153.1,162.9 156.2,167.6 158.5,172.2 160.1,175.0" class="tk" stroke="#33e81a"/>
<polyline points="205.3,109.1 200.7,110.2 195.5,111.7 191.4,115.3 187.3,118.9 182.1,119.4 175.9,119.9 174.4,122.5 172.8,123.0 168.7,122.0 166.1,120.5 167.7,123.0 169.2,125.6" class="tk" stroke="#ecf814"/>
<polyline points="174.4,122.5 178.0,125.1 182.6,127.2" class="tk" stroke="#ecf814"/>
<polyline points="182.6,127.2 186.2,126.6 189.3,126.1" class="tk" stroke="#33e81a"/>
<polyline points="189.3,126.1 196.5,127.2" fill="none" stroke="#2a2a2a" stroke-width="0.9" stroke-dasharray="2.2,0.7"/>
<polyline points="196.5,127.2 199.6,129.2 202.7,131.8 205.3,135.9 207.9,139.0" class="tk" stroke="#33e81a"/>
<polyline points="181.3,150.0 175.1,152.1 166.8,155.2 159.6,157.2" class="tk" stroke="#ff0d0d"/>
<polyline points="159.6,157.2 154.5,160.3 151.4,163.4 148.3,166.5 145.2,169.6" class="tk" stroke="#ecf814"/>
<polyline points="145.2,169.6 144.2,170.6 140.0,174.7 136.9,177.8 135.9,178.9" class="tk" stroke="#ff0d0d"/>
<polyline points="151.4,162.4 154.5,166.5 157.6,171.6 157.6,176.8 158.6,183.0 161.7,183.0 164.8,180.9" class="tk" stroke="#33e81a"/>
<polyline points="157.6,172.7 164.8,174.7 173.0,175.8 179.2,174.7 185.4,172.7 191.6,170.6 195.3,169.6" class="tk" stroke="#ecf814"/>
<polyline points="144.2,186.1 151.4,192.3 156.5,193.3 163.8,193.7" class="tk" stroke="#33e81a"/>
<polyline points="163.8,193.7 166.8,194.3 169.9,196.4 171.0,200.5 175.1,201.5 181.3,200.5 185.4,199.5" fill="none" stroke="#2a2a2a" stroke-width="0.9" stroke-dasharray="2.2,0.7"/>
<polyline points="151.4,192.3 148.3,197.4 147.3,203.6 152.4,204.6 158.6,204.6 162.7,208.8" class="tk" stroke="#ecf814"/>
<polyline points="148.0,160.0 146.1,163.9 144.1,167.7 142.9,171.6 143.5,176.8 144.1,180.6 144.8,185.8 146.1,190.3 148.7,193.5 148.0,197.4 146.7,201.2 147.4,203.8" class="tk" stroke="#ecf814"/>
<polyline points="151.2,165.2 148.0,169.0 144.8,172.2 140.9,174.8 137.1,176.8" class="tk" stroke="#ff0d0d"/>
<polyline points="136.4,175.2 141.6,176.5 139.6,178.3 136.8,177.8" class="tk" stroke="#ff0d0d"/>
<polyline points="210.1,156.1 207.1,160.0 202.4,166.2 197.8,171.6 193.9,175.5 190.0,178.6" class="tk" stroke="#ff6a10"/>
<polyline points="190.0,178.6 186.9,180.1 183.9,182.4 183.1,187.1" class="tk" stroke="#ff0d0d"/>
<polyline points="183.1,187.1 186.9,187.8 190.0,189.4 190.8,194.0 190.8,198.7 188.5,203.3 185.4,204.8 182.3,206.4 180.8,208.7" class="tk" stroke="#ff6a10"/>
<polyline points="180.8,208.7 180.0,212.6 180.8,217.2 179.2,220.0" class="tk" stroke="#33e81a"/>
<polyline points="200.9,160.0 196.2,164.6 190.0,169.3 186.9,170.8" class="tk" stroke="#33e81a"/>
<polyline points="186.9,170.8 183.9,172.4 177.7,174.7 171.5,175.5 165.3,176.2" class="tk" stroke="#ecf814"/>
<polyline points="146.9,201.5 152.4,202.3 157.8,203.9 160.9,207.7 164.7,212.4 168.6,217.0 171.7,221.6" class="tk" stroke="#ecf814"/>
<polyline points="171.7,221.6 174.8,224.7 177.9,227.8 180.2,230.9 182.5,235.6 185.3,240.2" class="tk" stroke="#33e81a"/>
<polyline points="180.0,230.8 183.1,237.0 185.4,243.2 186.9,248.6 188.5,254.0 190.0,260.2 191.6,264.8 193.9,266.4 196.2,263.3 197.8,259.4" class="tk" stroke="#33e81a"/>
<polyline points="240.2,170.0 239.8,179.0 239.8,187.1 241.1,193.5 240.5,198.9" class="tk" stroke="#ecf814"/>
<polyline points="240.5,198.9 238.4,204.3 236.9,208.8 236.5,213.3 236.5,218.7 237.4,222.3 240.2,224.2" class="tk" stroke="#33e81a"/>
<circle cx="191.6" cy="92.5" r="0.8" fill="#fff6f0"/>
<circle cx="166.4" cy="107.0" r="1.0" fill="#000"/>
<circle cx="150.1" cy="123.2" r="0.8" fill="#fff6f0"/>
<circle cx="143.8" cy="138.5" r="1.0" fill="#000"/>
<circle cx="205.4" cy="108.7" r="1.0" fill="#000"/>
<circle cx="187.6" cy="118.7" r="0.8" fill="#fff6f0"/>
<circle cx="231.7" cy="97.8" r="0.8" fill="#fff6f0"/>
<circle cx="248.1" cy="138.2" r="1.0" fill="#000"/>
<circle cx="262.0" cy="122.8" r="0.8" fill="#fff6f0"/>
<circle cx="233.4" cy="146.8" r="0.8" fill="#fff6f0"/>
<circle cx="191.5" cy="148.6" r="0.8" fill="#fff6f0"/>
<circle cx="224.0" cy="138.6" r="1.0" fill="#000"/>
<circle cx="211.6" cy="150.9" r="0.8" fill="#fff6f0"/>
<circle cx="201.5" cy="161.0" r="1.0" fill="#000"/>
<circle cx="217.0" cy="131.6" r="1.0" fill="#000"/>
<circle cx="196.1" cy="127.0" r="0.8" fill="#fff6f0"/>
<circle cx="206.9" cy="139.3" r="1.0" fill="#000"/>
<circle cx="240.2" cy="167.9" r="0.8" fill="#fff6f0"/>
<circle cx="144.6" cy="149.0" r="0.8" fill="#fff6f0"/>
<circle cx="174.8" cy="151.3" r="1.0" fill="#000"/>
<circle cx="159.3" cy="157.5" r="0.8" fill="#fff6f0"/>
<circle cx="187.3" cy="118.9" r="0.8" fill="#fff6f0"/>
<circle cx="172.8" cy="123.0" r="0.8" fill="#fff6f0"/>
<circle cx="182.6" cy="127.2" r="1.0" fill="#000"/>
<circle cx="205.3" cy="109.1" r="1.0" fill="#000"/>
<circle cx="196.5" cy="127.2" r="0.8" fill="#fff6f0"/>
<circle cx="175.1" cy="152.1" r="1.0" fill="#000"/>
<circle cx="159.6" cy="157.2" r="0.8" fill="#fff6f0"/>
<circle cx="157.6" cy="171.6" r="1.0" fill="#000"/>
<circle cx="162.3" cy="182.6" r="1.0" fill="#000"/>
<circle cx="151.4" cy="192.3" r="1.0" fill="#000"/>
<circle cx="163.8" cy="193.7" r="0.8" fill="#fff6f0"/>
<circle cx="147.3" cy="203.6" r="1.0" fill="#000"/>
<circle cx="148.7" cy="193.5" r="0.8" fill="#fff6f0"/>
<circle cx="148.0" cy="169.0" r="0.8" fill="#fff6f0"/>
<circle cx="202.4" cy="166.2" r="1.0" fill="#000"/>
<circle cx="190.0" cy="178.6" r="0.8" fill="#fff6f0"/>
<circle cx="183.1" cy="187.1" r="1.0" fill="#000"/>
<circle cx="190.0" cy="189.4" r="0.8" fill="#fff6f0"/>
<circle cx="180.8" cy="208.7" r="0.8" fill="#fff6f0"/>
<circle cx="177.7" cy="174.7" r="0.8" fill="#fff6f0"/>
<circle cx="196.2" cy="164.6" r="1.0" fill="#000"/>
<circle cx="152.4" cy="202.3" r="0.8" fill="#fff6f0"/>
<circle cx="164.7" cy="212.4" r="1.0" fill="#000"/>
<circle cx="180.2" cy="230.9" r="0.8" fill="#fff6f0"/>
<circle cx="186.9" cy="248.6" r="1.0" fill="#000"/>
<circle cx="191.6" cy="264.8" r="0.8" fill="#fff6f0"/>
<circle cx="197.8" cy="259.4" r="0.8" fill="#fff6f0"/>
<circle cx="239.8" cy="187.1" r="1.0" fill="#000"/>
<circle cx="240.5" cy="198.9" r="0.8" fill="#fff6f0"/>
<circle cx="236.9" cy="208.8" r="1.0" fill="#000"/>
<circle cx="236.5" cy="218.7" r="0.8" fill="#fff6f0"/>
<text x="190.7" y="99.2" class="dn" text-anchor="middle">17</text>
<text x="232.5" y="104.6" class="dn" text-anchor="middle">19</text>
<text x="222.4" y="123.1" class="dn" text-anchor="middle">19</text>
<text x="260.5" y="121.8" class="dn" text-anchor="middle">12</text>
<text x="262.0" y="130.3" class="dn" text-anchor="middle">03</text>
<text x="239.6" y="129.5" class="dn" text-anchor="middle">29</text>
<text x="232.6" y="153.5" class="dn" text-anchor="middle">02</text>
<text x="196.1" y="133.7" class="dn" text-anchor="middle">16</text>
<text x="241.0" y="174.7" class="dn" text-anchor="middle">11</text>
<text x="191.5" y="154.6" class="dn" text-anchor="middle">01</text>
<text x="208.5" y="154.6" class="dn" text-anchor="middle">16</text>
<text x="213.9" y="158.4" class="dn" text-anchor="middle">25</text>
<text x="206.2" y="160.0" class="dn" text-anchor="middle">15</text>
<text x="150.0" y="130.2" class="dn" text-anchor="middle">16</text>
<text x="145.4" y="155.8" class="dn" text-anchor="middle">15</text>
<text x="159.3" y="163.5" class="dn" text-anchor="middle">30</text>
<text x="172.8" y="129.8" class="dn" text-anchor="middle">17</text>
<text x="187.3" y="125.7" class="dn" text-anchor="middle">18</text>
<text x="152.5" y="173.7" class="dn" text-anchor="middle">16</text>
<text x="146.7" y="178.9" class="dn" text-anchor="middle">29</text>
<text x="138.3" y="185.9" class="dn" text-anchor="middle">28</text>
<text x="144.8" y="185.9" class="dn" text-anchor="middle">13</text>
<text x="143.5" y="192.4" class="dn" text-anchor="middle">27</text>
<text x="162.8" y="191.7" class="dn" text-anchor="middle">14</text>
<text x="162.8" y="199.5" class="dn" text-anchor="middle">28</text>
<text x="151.2" y="201.4" class="dn" text-anchor="middle">12</text>
<text x="152.5" y="208.5" class="dn" text-anchor="middle">11</text>
<text x="190.0" y="186.1" class="dn" text-anchor="middle">27</text>
<text x="190.8" y="195.3" class="dn" text-anchor="middle">26</text>
<text x="187.7" y="210.0" class="dn" text-anchor="middle">25</text>
<text x="180.2" y="215.2" class="dn" text-anchor="middle">25</text>
<text x="181.7" y="229.2" class="dn" text-anchor="middle">24</text>
<text x="179.4" y="237.7" class="dn" text-anchor="middle">10</text>
<text x="191.6" y="271.6" class="dn" text-anchor="middle">09</text>
<text x="197.8" y="266.2" class="dn" text-anchor="middle">08</text>
<text x="241.1" y="204.6" class="dn" text-anchor="middle">10</text>
<text x="236.5" y="226.3" class="dn" text-anchor="middle">09</text>
<rect x="207.4" y="74.3" width="9.9" height="8.3" rx="1.3" fill="#fff" stroke="#111" stroke-width="1.15"/><text x="212.4" y="80.8" class="bx" text-anchor="middle">09</text>
<rect x="218.2" y="99.9" width="9.1" height="8.3" rx="1.3" fill="#fff" stroke="#111" stroke-width="1.15"/><text x="222.8" y="106.3" class="bx" text-anchor="middle">03</text>
<rect x="230.6" y="115.3" width="9.1" height="7.6" rx="1.3" fill="#fff" stroke="#111" stroke-width="1.15"/><text x="235.2" y="121.4" class="bx" text-anchor="middle">06</text>
<rect x="239.3" y="79.8" width="10.7" height="9.1" rx="1.3" fill="#fff" stroke="#111" stroke-width="1.15"/><text x="244.6" y="86.7" class="bx" text-anchor="middle">04</text>
<rect x="262.5" y="90.6" width="9.9" height="8.3" rx="1.3" fill="#fff" stroke="#111" stroke-width="1.15"/><text x="267.4" y="97.1" class="bx" text-anchor="middle">06</text>
<rect x="250.9" y="107.0" width="9.9" height="7.6" rx="1.3" fill="#fff" stroke="#111" stroke-width="1.15"/><text x="255.8" y="113.1" class="bx" text-anchor="middle">03</text>
<rect x="187.3" y="156.0" width="9.9" height="7.6" rx="1.3" fill="#fff" stroke="#111" stroke-width="1.15"/><text x="192.3" y="162.1" class="bx" text-anchor="middle">04</text>
<rect x="167.3" y="178.3" width="9.9" height="7.6" rx="1.3" fill="#fff" stroke="#111" stroke-width="1.15"/><text x="172.3" y="184.3" class="bx" text-anchor="middle">09</text>
<rect x="193.6" y="199.1" width="9.9" height="7.6" rx="1.3" fill="#fff" stroke="#111" stroke-width="1.15"/><text x="198.5" y="205.2" class="bx" text-anchor="middle">08</text>
<rect x="188.2" y="155.9" width="7.4" height="7.8" rx="1.3" fill="#fff" stroke="#111" stroke-width="1.15"/><text x="191.9" y="162.1" class="bx" text-anchor="middle">04</text>
<rect x="192.1" y="220.5" width="9.1" height="7.6" rx="1.3" fill="#fff" stroke="#111" stroke-width="1.15"/><text x="196.6" y="226.6" class="bx" text-anchor="middle">06</text>
<rect x="204.4" y="255.3" width="9.1" height="7.6" rx="1.3" fill="#fff" stroke="#111" stroke-width="1.15"/><text x="209.0" y="261.3" class="bx" text-anchor="middle">03</text>
<rect x="246.7" y="221.1" width="9.1" height="7.8" rx="1.3" fill="#fff" stroke="#111" stroke-width="1.15"/><text x="251.3" y="227.4" class="bx" text-anchor="middle">02</text>
</g></g>
<rect x="32.7" y="5.35" width="26" height="21.6" fill="#fff"/>
<rect x="337.4" y="5.35" width="27" height="21" fill="#fff"/>
<text transform="translate(36.3,22.4) scale(1,1.09)" class="pl">(a)</text>
<text transform="translate(341.4,22.2) scale(1,1.09)" class="pl">(b)</text>
<rect x="32.7" y="5.35" width="253.7" height="304.6" fill="none" stroke="#000" stroke-width="1.4"/>
<rect x="337.4" y="5.35" width="253.7" height="304.6" fill="none" stroke="#000" stroke-width="1.4"/>
<text x="25.9" y="313.8" class="t tn" text-anchor="end">0°</text>
<text x="25.9" y="263.0" class="t tn" text-anchor="end">5°N</text>
<text x="25.9" y="212.2" class="t tn" text-anchor="end">10°N</text>
<text x="25.9" y="161.5" class="t tn" text-anchor="end">15°N</text>
<text x="25.9" y="110.7" class="t tn" text-anchor="end">20°N</text>
<text x="25.9" y="59.9" class="t tn" text-anchor="end">25°N</text>
<text x="25.9" y="9.2" class="t tn" text-anchor="end">30°N</text>
<text x="32.7" y="324.5" class="t" text-anchor="middle">75°E</text>
<text x="83.4" y="324.5" class="t" text-anchor="middle">80°E</text>
<text x="134.2" y="324.5" class="t" text-anchor="middle">85°E</text>
<text x="184.9" y="324.5" class="t" text-anchor="middle">90°E</text>
<text x="235.7" y="324.5" class="t" text-anchor="middle">95°E</text>
<text x="286.4" y="324.5" class="t" text-anchor="middle">100°E</text>
<text x="330.6" y="313.8" class="t tn" text-anchor="end">0°</text>
<text x="330.6" y="263.0" class="t tn" text-anchor="end">5°N</text>
<text x="330.6" y="212.2" class="t tn" text-anchor="end">10°N</text>
<text x="330.6" y="161.5" class="t tn" text-anchor="end">15°N</text>
<text x="330.6" y="110.7" class="t tn" text-anchor="end">20°N</text>
<text x="330.6" y="59.9" class="t tn" text-anchor="end">25°N</text>
<text x="330.6" y="9.2" class="t tn" text-anchor="end">30°N</text>
<text x="337.4" y="324.5" class="t" text-anchor="middle">75°E</text>
<text x="388.1" y="324.5" class="t" text-anchor="middle">80°E</text>
<text x="438.9" y="324.5" class="t" text-anchor="middle">85°E</text>
<text x="489.6" y="324.5" class="t" text-anchor="middle">90°E</text>
<text x="540.4" y="324.5" class="t" text-anchor="middle">95°E</text>
<text x="591.1" y="324.5" class="t" text-anchor="middle">100°E</text>
<!-- legend -->
<line x1="106.4" y1="351.9" x2="133.8" y2="351.9" stroke="#3a3aff" stroke-width="2.2" stroke-dasharray="1.2,0.6"/>
<text x="136.8" y="355.6" class="lg">ST</text>
<line x1="162.5" y1="350.9" x2="189.5" y2="350.9" stroke="#f01010" stroke-width="2.4"/>
<text x="194.2" y="355.6" class="lg">TY</text>
<line x1="219.7" y1="349.8" x2="247.6" y2="349.8" stroke="#d8f020" stroke-width="2.2"/>
<text x="253.6" y="356.2" class="lg">TS</text>
<line x1="280.3" y1="350.9" x2="307.5" y2="350.9" stroke="#30d830" stroke-width="2.4"/>
<text x="314" y="357.4" class="lg">TD</text>
<line x1="341.4" y1="349.1" x2="368.8" y2="349.1" stroke="#ff6a10" stroke-width="2.4"/>
<text x="375.3" y="356.6" class="lg">TC</text>
<line x1="401.4" y1="351.9" x2="406.8" y2="351.9" stroke="#000" stroke-width="1.2"/>
<line x1="418.5" y1="351.9" x2="423.9" y2="351.9" stroke="#000" stroke-width="1.2"/>
<text x="433.5" y="356.2" class="lg">DB</text>
<!-- bottom -->
<circle cx="6.2" cy="378.3" r="6" fill="#000"/>
<circle cx="186.7" cy="378.8" r="5.3" fill="none" stroke="#000" stroke-width="1.2"/>
<rect x="407.9" y="373.1" width="10.2" height="11.6" fill="none" stroke="#000" stroke-width="1.1"/>
<text x="409.4" y="383.2" class="bt" style="font-size:12.4px">3</text>
<text x="15.7" y="383.1" class="bt" textLength="38.9" lengthAdjust="spacing">0000</text>
<text x="62.9" y="383.3" class="bt" textLength="30.7" lengthAdjust="spacingAndGlyphs">UTC</text>
<text x="103.3" y="383.5" class="bt" textLength="65.2" lengthAdjust="spacing">Position</text>
<text x="196.8" y="383.9" class="bt" textLength="37.3" lengthAdjust="spacing">1200</text>
<text x="242.9" y="384.1" class="bt" textLength="29.9" lengthAdjust="spacingAndGlyphs">UTC</text>
<text x="282.5" y="384.3" class="bt" textLength="114.5" lengthAdjust="spacing">Position/Date</text>
<text x="422.5" y="385.0" class="bt" textLength="66.9" lengthAdjust="spacing">Tropical</text>
<text x="498.1" y="385.3" class="bt" textLength="62.7" lengthAdjust="spacing">Cyclone</text>
<text x="567.5" y="385.6" class="bt" textLength="35.8" lengthAdjust="spacing">year</text>
</svg>
</body></html>
